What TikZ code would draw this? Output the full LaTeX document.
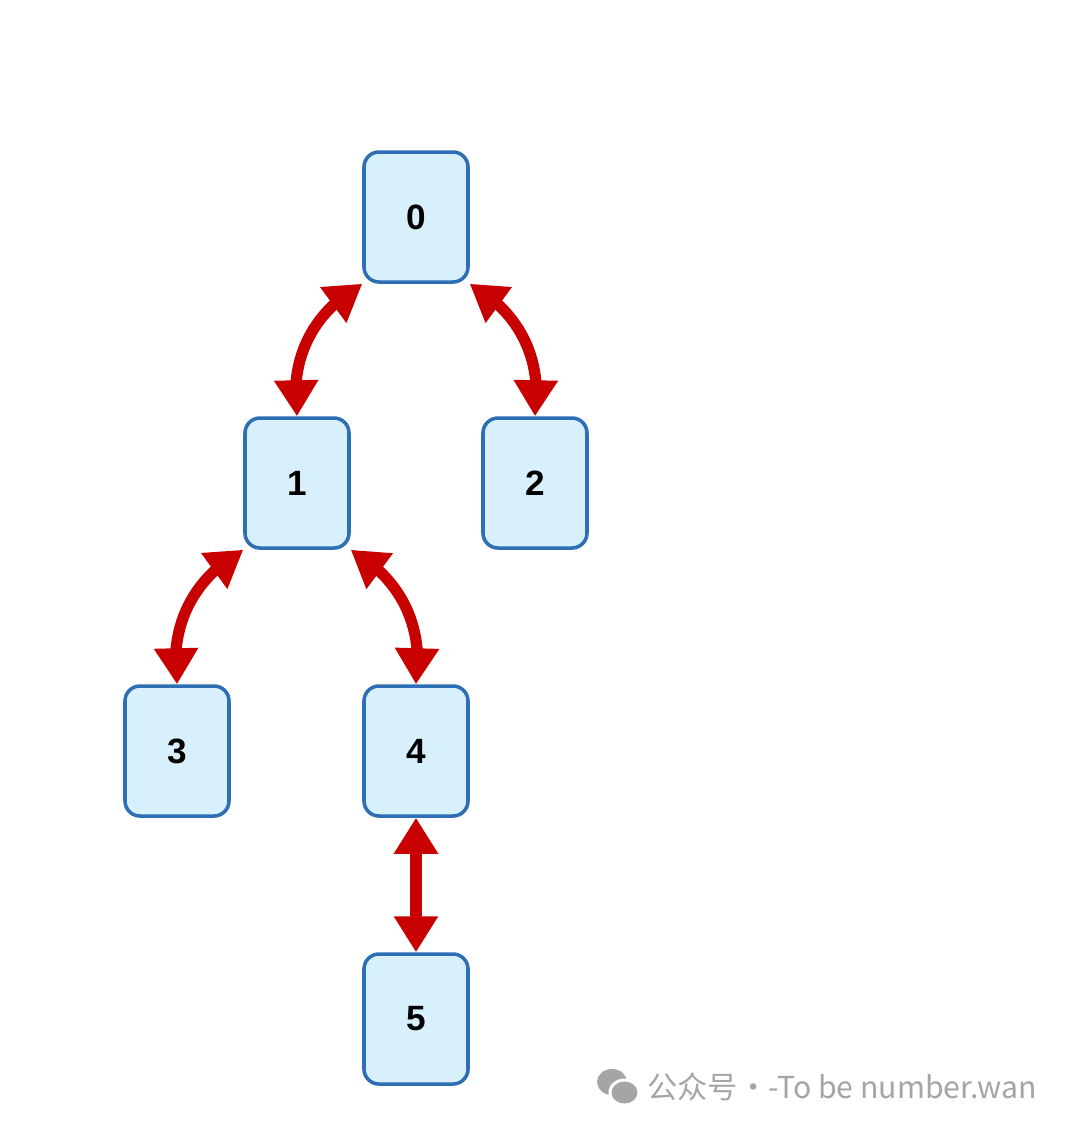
\documentclass[tikz,border=0pt]{standalone}
\usepackage{fontspec}
\setmainfont{Liberation Sans}
\newfontfamily\cjk{Noto Sans CJK SC}
\usetikzlibrary{arrows.meta,bending}
\definecolor{boxblue}{RGB}{46,110,180}
\definecolor{boxfill}{RGB}{216,240,251}
\definecolor{linkred}{RGB}{200,0,0}
\definecolor{markgray}{RGB}{165,165,165}
\begin{document}
\begin{tikzpicture}[
  box/.style={draw=boxblue, fill=boxfill, line width=1pt, rounded corners=0.15cm,
    minimum width=1.04cm, minimum height=1.30cm, inner sep=0pt,
    font=\fontsize{10}{12}\selectfont\bfseries},
  link/.style={draw=linkred, line width=3.2pt,
    {Triangle[width=0.42cm,length=0.36cm,flex]}-{Triangle[width=0.42cm,length=0.36cm,flex]}}
]
\useasboundingbox (0,0) rectangle (10.8,-11.31);
\fill[white] (0,0) rectangle (10.8,-11.31);
\node[box] (0) at (4.16,-2.17) {0};
\node[box] (1) at (2.97,-4.83) {1};
\node[box] (2) at (5.35,-4.83) {2};
\node[box] (3) at (1.77,-7.51) {3};
\node[box] (4) at (4.16,-7.51) {4};
\node[box] (5) at (4.16,-10.19) {5};
\path[link] (0.south west) to [bend right=34] (1.north);
\path[link] (0.south east) to [bend left=34] (2.north);
\path[link] (1.south west) to [bend right=34] (3.north);
\path[link] (1.south east) to [bend left=34] (4.north);
\path[link] (4.south) -- (5.north);

% watermark
\fill[markgray] (6.12,-10.82) ellipse (0.15 and 0.13);
\fill[white] (6.245,-10.925) ellipse (0.16 and 0.14);
\fill[markgray] (6.245,-10.925) ellipse (0.13 and 0.11);
\node[anchor=east, text=markgray, font=\cjk\fontsize{8.6}{10}\selectfont, inner sep=0pt]
  (mark) at (10.38,-10.87) {公众号·-To be number.wan};
\end{tikzpicture}
\end{document}
